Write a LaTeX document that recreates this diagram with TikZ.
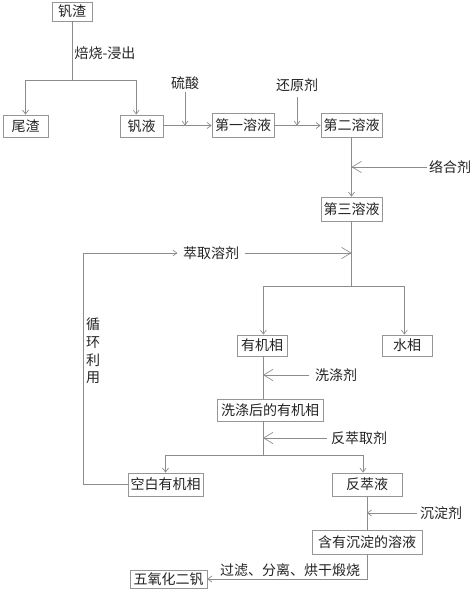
\documentclass[tikz,border=0pt]{standalone}
\usepackage{fontspec}
\setmainfont{Noto Sans CJK SC}
\usetikzlibrary{arrows.meta}
\definecolor{linegray}{RGB}{140,140,140}
\definecolor{boxgray}{RGB}{150,150,150}
\definecolor{txt}{RGB}{35,35,35}
\tikzset{
  box/.style={draw=boxgray, line width=0.6pt, inner sep=0pt, text=txt},
  lbl/.style={inner sep=0pt, text=txt},
  ln/.style={draw=linegray, line width=0.5pt},
  sarr/.style={ln, -{Straight Barb[length=3pt,width=4.5pt]}},
  barr/.style={ln, -{Straight Barb[length=7pt,width=8.5pt]}},
}

\begin{document}
\begin{tikzpicture}[x=0.75pt,y=-0.75pt,font=\fontsize{10.5}{12}\selectfont]
\useasboundingbox (0,0) rectangle (474,591);

% boxes
\node [box,minimum width=30pt,minimum height=14.25pt] (zha) at (72,11.5) {钒渣};
\node [box,minimum width=33.75pt,minimum height=16.5pt] (weizha) at (25.5,126) {尾渣};
\node [box,minimum width=32.25pt,minimum height=16.5pt] (ye) at (141.5,126) {钒液};
\node [box,minimum width=46.5pt,minimum height=18pt] (sol1) at (243,125.5) {第一溶液};
\node [box,minimum width=45.75pt,minimum height=18pt] (sol2) at (351.5,125.5) {第二溶液};
\node [box,minimum width=45.75pt,minimum height=18pt] (sol3) at (351.5,209) {第三溶液};
\node [box,minimum width=37.5pt,minimum height=15.75pt] (org) at (262,345.5) {有机相};
\node [box,minimum width=37.5pt,minimum height=15.75pt] (water) at (407,345.5) {水相};
\node [box,minimum width=79.5pt,minimum height=16.5pt] (washed) at (270,410) {洗涤后的有机相};
\node [box,minimum width=56.25pt,minimum height=17.25pt] (blank) at (165.5,484.5) {空白有机相};
\node [box,minimum width=52.5pt,minimum height=17.25pt] (strip) at (367,484.5) {反萃液};
\node [box,minimum width=82.5pt,minimum height=18pt] (prec) at (367,542) {含有沉淀的溶液};
\node [box,minimum width=57.75pt,minimum height=13.5pt] (vox) at (168.5,579) {五氧化二钒};

% reagents and steps
\node [lbl] (roast) at (105,53) {焙烧-浸出};
\node [lbl,inner ysep=2pt] (acid) at (185,83) {硫酸};
\node [lbl,inner ysep=4pt] (redu) at (297,85) {还原剂};
\node [lbl,inner xsep=1pt] (cplx) at (450,167) {络合剂};
\node [lbl,inner xsep=4pt] (ext) at (211,253) {萃取溶剂};
\node [lbl,inner xsep=4pt] (wash) at (336,375) {洗涤剂};
\node [lbl,inner xsep=3pt] (back) at (359,438) {反萃取剂};
\node [lbl,inner xsep=2pt] (pagent) at (441,513) {沉淀剂};
\node [lbl] (filt) at (290,570) {过滤、分离、烘干煅烧};
\node [lbl,align=center,font=\fontsize{10.5}{13.2}\selectfont] (cyc) at (93,351) {循\\环\\利\\用};

\coordinate (split1) at (72,80);
\coordinate (split2) at (351.5,286);
\coordinate (split3) at (263,455);
\coordinate (loop) at (83,253);

\draw [ln] (zha) -- (split1);
\draw [sarr] (split1) -| (weizha.north);
\draw [sarr] (split1) -| ([xshift=-4pt]ye.north);

\draw [sarr] (ye.east |- sol1.west) -- (sol1.west);
\draw [sarr] (acid.south) -- (acid.south |- sol1.west);
\draw [sarr] (sol1) -- (sol2);
\draw [sarr] (redu.south) -- (redu.south |- sol1.east);

\draw [sarr] (sol2) -- (sol3);
\draw [barr] (cplx.west) -- (cplx.west -| sol2.south);

\draw [ln] (sol3) -- (split2);
\draw [barr] (ext.east) -- (ext.east -| sol3.south);
\draw [sarr] (blank.west) -| (loop) -- (ext.west);
\draw [sarr] (split2) -| ([xshift=1pt]org.north);
\draw [sarr] (split2) -| ([xshift=-2pt]water.north);

\draw [ln] ([xshift=1pt]org.south) -- ([xshift=1pt]org.south |- washed.north);
\draw [barr] (wash.west) -- (wash.west -| split3);
\draw [ln] (split3 |- washed.south) -- (split3);
\draw [barr] (back.west) -- (back.west -| split3);
\draw [sarr] (split3) -| (blank.north);
\draw [sarr] (split3) -| ([xshift=-3pt]strip.north);

\draw [ln] (strip) -- (prec);
\draw [sarr] (pagent.west) -- (pagent.west -| strip.south);
\draw [sarr] (prec.south) |- (vox.east);
\end{tikzpicture}
\end{document}
